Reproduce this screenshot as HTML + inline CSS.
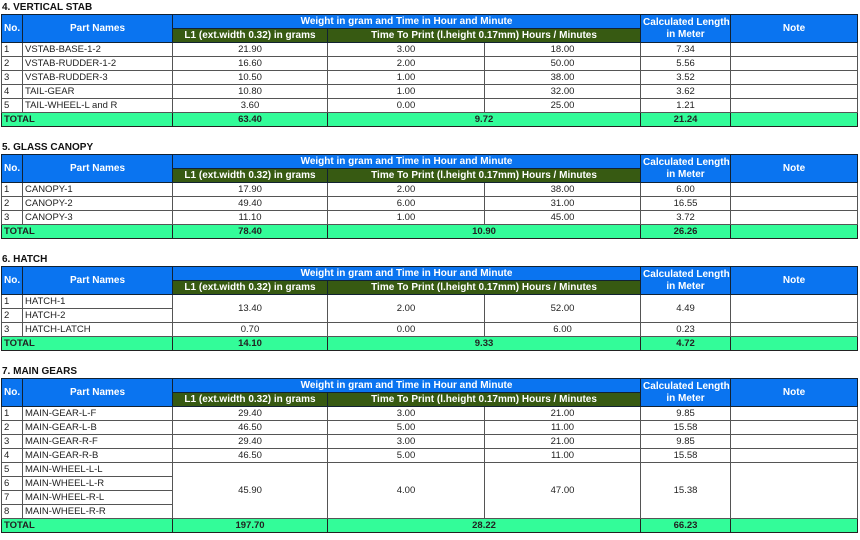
<!DOCTYPE html>
<html><head><meta charset="utf-8"><style>
body{margin:0;width:860px;height:540px;background:#fff;position:relative;overflow:hidden;font-family:"Liberation Sans Narrow","Liberation Sans",sans-serif;color:#222}
.t{position:absolute;left:2px;font-weight:bold;font-size:10px;color:#111}
table{position:absolute;left:1px;border-collapse:collapse;table-layout:fixed;width:856px;font-size:9.5px}
td{border:1px solid #555;height:13px;padding:0 2px;white-space:nowrap;overflow:hidden;text-align:center;line-height:12px}
.h{background:#0a74f0;color:#fff;font-weight:bold;font-size:10px;border-color:#123}
.g{background:#375a12;color:#fff;font-weight:bold;font-size:10px;border-color:#123}
.l{text-align:left}
.tot td{background:#33fc99;font-weight:bold;border-color:#222}
</style></head><body>
<div class="t" style="top:2px">4. VERTICAL STAB</div>
<table style="top:14px">
<colgroup><col style="width:21px"><col style="width:150px"><col style="width:155px"><col style="width:157px"><col style="width:156px"><col style="width:90px"><col style="width:127px"></colgroup>
<tr><td class="h l" rowspan="2">No.</td><td class="h" rowspan="2">Part Names</td><td class="h" colspan="3">Weight in gram and Time in Hour and Minute</td><td class="h" rowspan="2">Calculated Length<br>in Meter</td><td class="h" rowspan="2">Note</td></tr>
<tr><td class="g">L1 (ext.width 0.32) in grams</td><td class="g" colspan="2">Time To Print (l.height 0.17mm) Hours / Minutes</td></tr>
<tr><td class="l">1</td><td class="l">VSTAB-BASE-1-2</td><td>21.90</td><td>3.00</td><td>18.00</td><td>7.34</td><td></td></tr>
<tr><td class="l">2</td><td class="l">VSTAB-RUDDER-1-2</td><td>16.60</td><td>2.00</td><td>50.00</td><td>5.56</td><td></td></tr>
<tr><td class="l">3</td><td class="l">VSTAB-RUDDER-3</td><td>10.50</td><td>1.00</td><td>38.00</td><td>3.52</td><td></td></tr>
<tr><td class="l">4</td><td class="l">TAIL-GEAR</td><td>10.80</td><td>1.00</td><td>32.00</td><td>3.62</td><td></td></tr>
<tr><td class="l">5</td><td class="l">TAIL-WHEEL-L and R</td><td>3.60</td><td>0.00</td><td>25.00</td><td>1.21</td><td></td></tr>
<tr class="tot"><td class="l" colspan="2">TOTAL</td><td>63.40</td><td colspan="2">9.72</td><td>21.24</td><td></td></tr>
</table>

<div class="t" style="top:142px">5. GLASS CANOPY</div>
<table style="top:154px">
<colgroup><col style="width:21px"><col style="width:150px"><col style="width:155px"><col style="width:157px"><col style="width:156px"><col style="width:90px"><col style="width:127px"></colgroup>
<tr><td class="h l" rowspan="2">No.</td><td class="h" rowspan="2">Part Names</td><td class="h" colspan="3">Weight in gram and Time in Hour and Minute</td><td class="h" rowspan="2">Calculated Length<br>in Meter</td><td class="h" rowspan="2">Note</td></tr>
<tr><td class="g">L1 (ext.width 0.32) in grams</td><td class="g" colspan="2">Time To Print (l.height 0.17mm) Hours / Minutes</td></tr>
<tr><td class="l">1</td><td class="l">CANOPY-1</td><td>17.90</td><td>2.00</td><td>38.00</td><td>6.00</td><td></td></tr>
<tr><td class="l">2</td><td class="l">CANOPY-2</td><td>49.40</td><td>6.00</td><td>31.00</td><td>16.55</td><td></td></tr>
<tr><td class="l">3</td><td class="l">CANOPY-3</td><td>11.10</td><td>1.00</td><td>45.00</td><td>3.72</td><td></td></tr>
<tr class="tot"><td class="l" colspan="2">TOTAL</td><td>78.40</td><td colspan="2">10.90</td><td>26.26</td><td></td></tr>
</table>

<div class="t" style="top:254px">6. HATCH</div>
<table style="top:266px">
<colgroup><col style="width:21px"><col style="width:150px"><col style="width:155px"><col style="width:157px"><col style="width:156px"><col style="width:90px"><col style="width:127px"></colgroup>
<tr><td class="h l" rowspan="2">No.</td><td class="h" rowspan="2">Part Names</td><td class="h" colspan="3">Weight in gram and Time in Hour and Minute</td><td class="h" rowspan="2">Calculated Length<br>in Meter</td><td class="h" rowspan="2">Note</td></tr>
<tr><td class="g">L1 (ext.width 0.32) in grams</td><td class="g" colspan="2">Time To Print (l.height 0.17mm) Hours / Minutes</td></tr>
<tr><td class="l">1</td><td class="l">HATCH-1</td><td rowspan="2">13.40</td><td rowspan="2">2.00</td><td rowspan="2">52.00</td><td rowspan="2">4.49</td><td rowspan="2"></td></tr>
<tr><td class="l">2</td><td class="l">HATCH-2</td></tr>
<tr><td class="l">3</td><td class="l">HATCH-LATCH</td><td>0.70</td><td>0.00</td><td>6.00</td><td>0.23</td><td></td></tr>
<tr class="tot"><td class="l" colspan="2">TOTAL</td><td>14.10</td><td colspan="2">9.33</td><td>4.72</td><td></td></tr>
</table>

<div class="t" style="top:366px">7. MAIN GEARS</div>
<table style="top:378px">
<colgroup><col style="width:21px"><col style="width:150px"><col style="width:155px"><col style="width:157px"><col style="width:156px"><col style="width:90px"><col style="width:127px"></colgroup>
<tr><td class="h l" rowspan="2">No.</td><td class="h" rowspan="2">Part Names</td><td class="h" colspan="3">Weight in gram and Time in Hour and Minute</td><td class="h" rowspan="2">Calculated Length<br>in Meter</td><td class="h" rowspan="2">Note</td></tr>
<tr><td class="g">L1 (ext.width 0.32) in grams</td><td class="g" colspan="2">Time To Print (l.height 0.17mm) Hours / Minutes</td></tr>
<tr><td class="l">1</td><td class="l">MAIN-GEAR-L-F</td><td>29.40</td><td>3.00</td><td>21.00</td><td>9.85</td><td></td></tr>
<tr><td class="l">2</td><td class="l">MAIN-GEAR-L-B</td><td>46.50</td><td>5.00</td><td>11.00</td><td>15.58</td><td></td></tr>
<tr><td class="l">3</td><td class="l">MAIN-GEAR-R-F</td><td>29.40</td><td>3.00</td><td>21.00</td><td>9.85</td><td></td></tr>
<tr><td class="l">4</td><td class="l">MAIN-GEAR-R-B</td><td>46.50</td><td>5.00</td><td>11.00</td><td>15.58</td><td></td></tr>
<tr><td class="l">5</td><td class="l">MAIN-WHEEL-L-L</td><td rowspan="4">45.90</td><td rowspan="4">4.00</td><td rowspan="4">47.00</td><td rowspan="4">15.38</td><td rowspan="4"></td></tr>
<tr><td class="l">6</td><td class="l">MAIN-WHEEL-L-R</td></tr>
<tr><td class="l">7</td><td class="l">MAIN-WHEEL-R-L</td></tr>
<tr><td class="l">8</td><td class="l">MAIN-WHEEL-R-R</td></tr>
<tr class="tot"><td class="l" colspan="2">TOTAL</td><td>197.70</td><td colspan="2">28.22</td><td>66.23</td><td></td></tr>
</table>
</body></html>
